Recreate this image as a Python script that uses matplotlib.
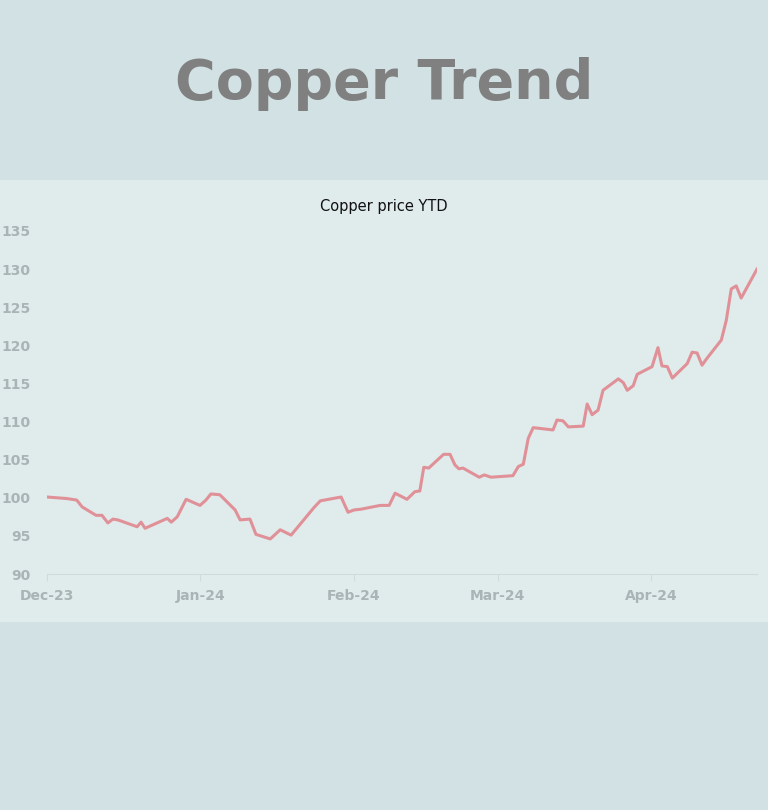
import matplotlib
matplotlib.use("Agg")
import matplotlib.pyplot as plt
import matplotlib.dates as mdates
from matplotlib.patches import Rectangle
import pandas as pd

start = pd.Timestamp("2023-12-01")
day_offsets = [0, 4.0, 6.0, 7.1, 9.9, 11.1, 12.3, 13.3, 14.3, 18.2, 19.0, 19.8, 21.2,
               24.3, 25.1, 26.3, 28.1, 30.9, 32.1, 33.1, 34.9, 38.0, 39.0, 41.0, 42.2,
               45.1, 47.1, 49.3, 53.9, 55.2, 59.4, 60.8, 62.0, 63.4, 67.3, 69.1, 70.3,
               72.7, 74.3, 75.3, 76.1, 77.1, 80.1, 81.4, 82.4, 83.2, 84.0, 87.3, 88.3,
               89.7, 94.1, 95.2, 96.2, 97.2, 98.2, 102.2, 103.0, 104.2, 105.3, 108.3,
               109.1, 110.1, 111.3, 112.3, 115.4, 116.4, 117.2, 118.4, 119.2, 122.2,
               123.4, 124.2, 125.3, 126.3, 129.3, 130.3, 131.3, 132.3, 133.3, 136.2,
               137.2, 138.2, 139.2, 140.2, 143.4]
prices = [100.1, 99.9, 99.7, 98.8, 97.7, 97.7, 96.7, 97.2, 97.1, 96.2, 96.8, 96.0, 96.4,
          97.3, 96.8, 97.5, 99.8, 99.0, 99.7, 100.5, 100.4, 98.4, 97.1, 97.2, 95.2,
          94.6, 95.8, 95.1, 98.7, 99.6, 100.1, 98.1, 98.4, 98.5, 99.0, 99.0, 100.6,
          99.8, 100.8, 100.9, 104.0, 103.9, 105.7, 105.7, 104.3, 103.8, 103.9, 102.7,
          103.0, 102.7, 102.9, 104.1, 104.4, 107.8, 109.2, 108.9, 110.2, 110.1, 109.3,
          109.4, 112.3, 110.9, 111.5, 114.1, 115.6, 115.1, 114.1, 114.7, 116.2, 117.2,
          119.7, 117.3, 117.2, 115.7, 117.6, 119.1, 119.0, 117.4, 118.3, 120.7, 123.3,
          127.4, 127.8, 126.2, 130.0, 129.9]
n = min(len(day_offsets), len(prices))
dates = [start + pd.Timedelta(days=d) for d in day_offsets[:n]]
prices = prices[:n]

fig = plt.figure(figsize=(7.68, 8.10), dpi=100, facecolor="#d2e1e4")
fig.patches.append(Rectangle((0, 1 - 622 / 810), 1, 442 / 810, transform=fig.transFigure,
                             facecolor="#e0ebec", edgecolor="none", zorder=-10))
fig.text(0.5, 1 - 84 / 810, "Copper Trend", ha="center", va="center", fontsize=40,
         fontweight="bold", color="#808080", family="DejaVu Sans")

ax = fig.add_axes([47 / 768, 1 - 574 / 810, 710 / 768, 343 / 810], zorder=5)
ax.set_facecolor("none")
ax.plot(dates, prices, color="#e0878f", lw=2.2, alpha=0.9, solid_joinstyle="round")
ax.set_ylim(90, 135)
ax.set_yticks(range(90, 136, 5))
ax.set_xlim(start, dates[-1])
ax.xaxis.set_major_locator(mdates.MonthLocator())
ax.xaxis.set_major_formatter(mdates.DateFormatter("%b-%y"))
for s in ["top", "right", "left"]:
    ax.spines[s].set_visible(False)
ax.spines["bottom"].set_color("#d0dadb")
ax.tick_params(axis="y", length=0, labelsize=10, labelcolor="#a9b4b6", pad=12)
ax.tick_params(axis="x", length=5, color="#d0dadb", labelsize=10, labelcolor="#a9b4b6", pad=6)
for lab in ax.get_xticklabels() + ax.get_yticklabels():
    lab.set_fontweight("bold")
fig.text(0.5, 1 - 206 / 810, "Copper price YTD", ha="center", va="center", fontsize=10.5,
         color="#111111")
fig.savefig("out.png", dpi=100, facecolor=fig.get_facecolor())
